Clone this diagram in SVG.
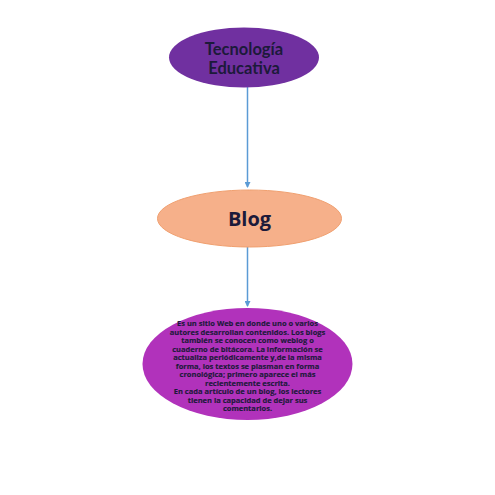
<svg xmlns="http://www.w3.org/2000/svg" width="495" height="495" viewBox="0 0 495 495">
<style>
.t{font-family:"Open Sans","Liberation Sans",sans-serif;font-weight:bold;fill:#1c1a3a;text-anchor:middle}
.h{font-family:Lato,"Open Sans",sans-serif;font-weight:bold;fill:#1c1a3a;text-anchor:middle}
.c{stroke:#5b9bd5;stroke-width:1.5;fill:none}
</style>
<defs>
<marker id="a" markerWidth="6" markerHeight="6" refX="5" refY="3" orient="auto" markerUnits="userSpaceOnUse">
<path d="M0,0 L6,3 L0,6 z" fill="#5b9bd5"/>
</marker>
</defs>
<rect width="495" height="495" fill="#fff"/>
<g id="connectors">
<line class="c" x1="247.5" y1="87" x2="247.5" y2="187" marker-end="url(#a)"/>
<line class="c" x1="247.5" y1="247" x2="247.5" y2="306" marker-end="url(#a)"/>
</g>
<g id="n1">
<ellipse cx="244" cy="57.5" rx="75" ry="30" fill="#7030a0"/>
<text class="h" font-size="16.5" x="244" y="55">Tecnología</text>
<text class="h" font-size="16.5" x="244" y="74">Educativa</text>
</g>
<g id="n2">
<ellipse cx="249.5" cy="218.5" rx="92" ry="28.5" fill="#f6b08a" stroke="#f0a070" stroke-width="1"/>
<text class="t" font-size="20" x="249.5" y="226">Blog</text>
</g>
<g id="n3">
<ellipse cx="247.5" cy="364" rx="105" ry="56" fill="#b132bb"/>
<g class="t" font-size="7.5" stroke="#1c1a3a" stroke-width="0.15">
<text x="247.5" y="326">Es un sitio Web en donde uno o varios</text>
<text x="247.5" y="334.5">autores desarrollan contenidos. Los blogs</text>
<text x="247.5" y="343">también se conocen como weblog o</text>
<text x="247.5" y="351.5">cuaderno de bitácora. La información se</text>
<text x="247.5" y="360">actualiza periódicamente y,de la misma</text>
<text x="247.5" y="368.5">forma, los textos se plasman en forma</text>
<text x="247.5" y="377">cronológica; primero aparece el más</text>
<text x="247.5" y="385.5">recientemente escrita.</text>
<text x="247.5" y="394">En cada artículo de un blog, los lectores</text>
<text x="247.5" y="402.5">tienen la capacidad de dejar sus</text>
<text x="247.5" y="411">comentarios.</text>
</g>
</g>
</svg>
